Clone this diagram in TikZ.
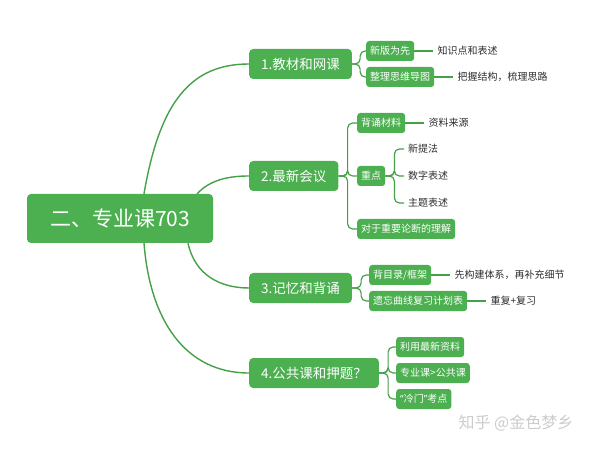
\documentclass[tikz,border=0pt]{standalone}
\usepackage{fontspec}
\setmainfont{Noto Sans CJK SC}
\newfontfamily\quotefont{Noto Sans}
\usepackage{xcolor}
\usepackage{tikz}
\usetikzlibrary{positioning}
\definecolor{mapgreen}{RGB}{76,175,80}
\definecolor{linkgreen}{RGB}{70,160,72}
\definecolor{leafgray}{RGB}{45,45,45}

\begin{document}
\begin{tikzpicture}[x=1pt,y=-1pt,
                    root node/.style={fill=mapgreen,rounded corners=4pt,text=white,font=\fontsize{21}{21}\selectfont,minimum width=186pt,minimum height=49pt,inner sep=0pt},
                    main node/.style={fill=mapgreen,rounded corners=4pt,text=white,font=\fontsize{13.5}{14}\selectfont,minimum height=30pt,inner xsep=12pt,anchor=west},
                    sub node/.style={fill=mapgreen,rounded corners=3pt,text=white,font=\fontsize{10}{10}\selectfont,minimum height=20pt,inner xsep=4pt,anchor=west},
                    leaf node/.style={text=leafgray,font=\fontsize{10}{10}\selectfont,inner xsep=4pt,anchor=west},
                    link/.style={draw=linkgreen,line width=1.4pt},
                    branch/.style={draw=linkgreen,line width=1.2pt,rounded corners=5pt}]
 \useasboundingbox (0,0) rectangle (600,449);

%Root and the four topics
 \node[root node] (root) at (120,218.5) {二、专业课703};

 \node[main node] (n1) at (249,64)  {1.教材和网课};
 \node[main node] (n2) at (249,176) {2.最新会议};
 \node[main node] (n3) at (249,288) {3.记忆和背诵};
 \node[main node] (n4) at (249,373) {4.公共课和押题？};

 \draw[link] ([xshift=24pt]root.north) .. controls (160,100) and (192,64) .. (n1.west);
 \draw[link] ([xshift=77pt]root.north) .. controls (210,180) and (228,176) .. (n2.west);
 \draw[link] ([xshift=68pt]root.south) .. controls (195,275) and (220,288) .. (n3.west);
 \draw[link] ([xshift=24pt]root.south) .. controls (150,320) and (185,373) .. (n4.west);

%Topic 1
 \node[sub node] (s11) at (366,51) {新版为先};
 \node[sub node] (s12) at (366,77) {整理思维导图};
 \foreach \s in {s11,s12}
    \draw[branch] (n1.east) -- ++(8,0) |- (\s.west);

 \node[leaf node] (l11) [right=19pt of s11] {知识点和表述};
 \node[leaf node] (l12) [right=19pt of s12] {把握结构，梳理思路};
 \draw[branch] (s11.east) -- (l11.west);
 \draw[branch] (s12.east) -- (l12.west);

%Topic 2
 \node[sub node] (s21) at (357,123) {背诵材料};
 \node[sub node] (s22) at (357,176) {重点};
 \node[sub node] (s23) at (357,229) {对于重要论断的理解};
 \foreach \s in {s21,s22,s23}
    \draw[branch] (n2.east) -- ++(9,0) |- (\s.west);

 \node[leaf node] (l21) [right=19pt of s21] {资料来源};
 \draw[branch] (s21.east) -- (l21.west);

 \node[leaf node] (p1) at (404,149) {新提法};
 \node[leaf node] (p2) at (404,176) {数字表述};
 \node[leaf node] (p3) at (404,203) {主题表述};
 \foreach \p in {p1,p2,p3}
    \draw[branch] (s22.east) -- ++(9,0) |- (\p.west);

%Topic 3
 \node[sub node] (s31) at (369,275) {背目录/框架};
 \node[sub node] (s32) at (369,301) {遗忘曲线复习计划表};
 \foreach \s in {s31,s32}
    \draw[branch] (n3.east) -- ++(9,0) |- (\s.west);

 \node[leaf node] (l31) [right=19pt of s31] {先构建体系，再补充细节};
 \node[leaf node] (l32) [right=19pt of s32] {重复+复习};
 \draw[branch] (s31.east) -- (l31.west);
 \draw[branch] (s32.east) -- (l32.west);

%Topic 4
 \node[sub node] (s41) at (396,347) {利用最新资料};
 \node[sub node] (s42) at (396,373) {专业课>公共课};
 \node[sub node] (s43) at (396,399) {{\quotefont“}冷门{\quotefont”}考点};
 \foreach \s in {s41,s42,s43}
    \draw[branch] (n4.east) -- ++(9,0) |- (\s.west);

%Watermark
 \node[anchor=west,text=gray!40,font=\fontsize{16}{16}\selectfont] (watermark) at (455,423) {知乎 @金色梦乡};

\end{tikzpicture}
\end{document}
